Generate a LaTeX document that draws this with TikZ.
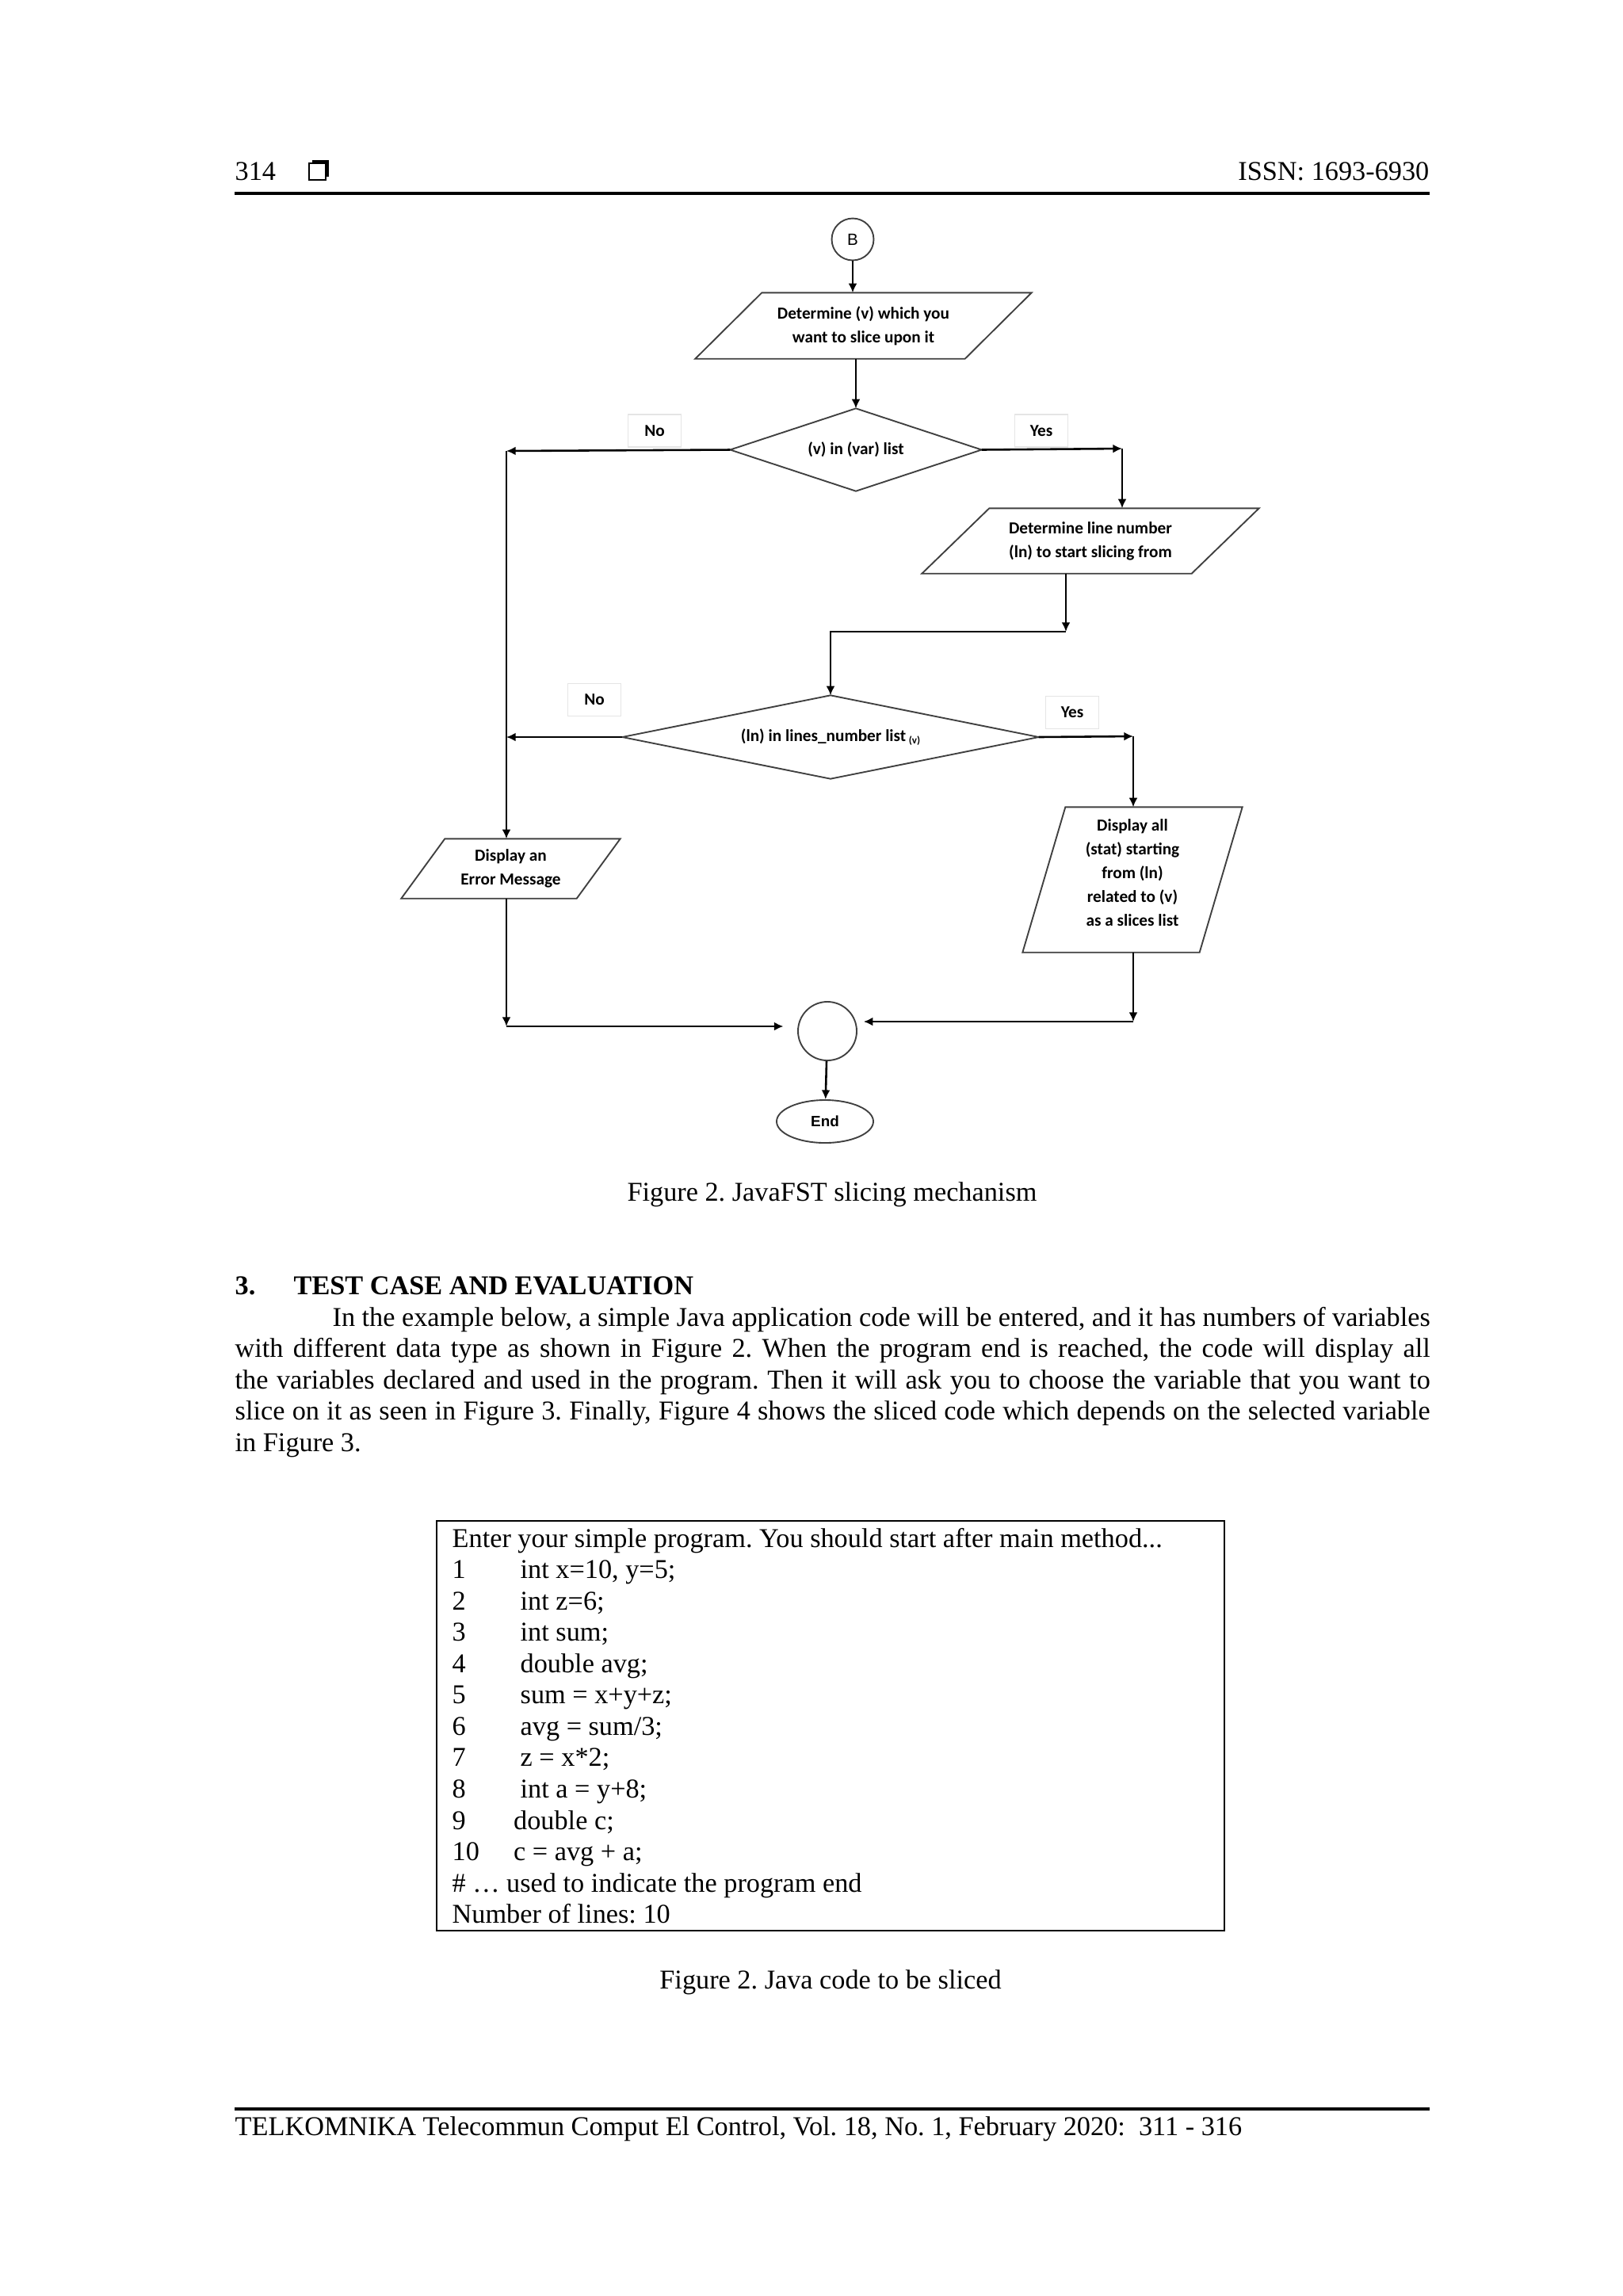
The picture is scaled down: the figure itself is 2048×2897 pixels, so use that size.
\documentclass[tikz,border=0pt]{standalone}
\usepackage{fontspec}
\setmainfont{Liberation Serif}
\newfontfamily\fcal{Carlito}
\newfontfamily\farial{Liberation Sans}
\usetikzlibrary{arrows.meta,calc,shapes.geometric}
\begin{document}
\frenchspacing
\begin{tikzpicture}[x=0.10254mm,y=-0.10254mm,
  fc/.style={font=\fcal\bfseries\fontsize{6.2}{8.7}\selectfont, align=center, inner sep=0pt},
  shp/.style={draw=black!75, line width=0.55pt},
  arr/.style={draw=black, line width=0.75pt, -{Latex[length=3.4pt,width=3.2pt]}},
  lbl/.style={fc, draw=black!10, line width=0.4pt, minimum width=6.87mm, minimum height=4.2mm},
  body/.style={font=\fontsize{10}{11.5}\selectfont, inner sep=0pt, anchor=base west},
  rule/.style={line width=1.2pt},
]
\useasboundingbox (0,0) rectangle (2048,2897);

% ---------- header ----------
\node[body] (pg) at (296,227) {314};
\fill[black] (394,202) rectangle (415,223);
\filldraw[fill=white, draw=black, line width=0.5pt] (390,206) rectangle (411,227);
\node[body, anchor=base east] (issn) at (1804,227) {ISSN: 1693-6930};
\draw[rule] (296,244) -- (1804,244);

% ---------- flowchart ----------
\node[circle, shp, minimum size=5.43mm, inner sep=0pt, font=\farial\fontsize{6}{7}\selectfont] (B) at (1076,302) {B};

\node[fc, minimum width=34.76mm, minimum height=8.41mm] (P1) at (1089.5,411) {Determine (v) which you\\want to slice upon it};
\draw[shp] ($(P1.north west)+(42,0)$) -- ($(P1.north east)+(42,0)$) -- ($(P1.south east)+(-42,0)$) -- ($(P1.south west)+(-42,0)$) -- cycle;

\node[fc, minimum width=32.40mm, minimum height=10.56mm] (D1) at (1080,567.5) {(v) in (var) list};
\draw[shp] (D1.north) -- (D1.east) -- (D1.south) -- (D1.west) -- cycle;

\node[fc, minimum width=34.76mm, minimum height=8.31mm] (P2) at (1376,682.5) {Determine line number\\(ln) to start slicing from};
\draw[shp] ($(P2.north west)+(42.5,0)$) -- ($(P2.north east)+(42.5,0)$) -- ($(P2.south east)+(-42.5,0)$) -- ($(P2.south west)+(-42.5,0)$) -- cycle;

\node[fc, minimum width=53.73mm, minimum height=10.66mm] (D2) at (1048,930) {(ln) in lines\_number list\,\raisebox{-0.7pt}{\fontsize{3.8}{4}\selectfont(v)}};
\draw[shp] (D2.north) -- (D2.east) -- (D2.south) -- (D2.west) -- cycle;

\node[fc, minimum width=22.76mm, minimum height=18.66mm] (P3) at (1429,1110) {Display all\\(stat) starting\\from (ln)\\related to (v)\\as a slices list\\[-1.2mm]};
\draw[shp] ($(P3.north west)+(27,0)$) -- ($(P3.north east)+(27,0)$) -- ($(P3.south east)+(-27,0)$) -- ($(P3.south west)+(-27,0)$) -- cycle;

\node[fc, minimum width=22.56mm, minimum height=7.59mm] (PE) at (644.5,1096) {Display an\\Error Message};
\draw[shp] ($(PE.north west)+(27.5,0)$) -- ($(PE.north east)+(27.5,0)$) -- ($(PE.south east)+(-27.5,0)$) -- ($(PE.south west)+(-27.5,0)$) -- cycle;

\node[circle, shp, minimum size=7.59mm, inner sep=0pt] (C) at (1044,1301) {};
\node[ellipse, shp, minimum width=12.51mm, minimum height=5.54mm, inner sep=0pt, font=\farial\bfseries\fontsize{5.5}{6.5}\selectfont] (E) at (1041,1415) {End};

% labels
\node[lbl] (no1) at (826,543.5) {No};
\node[lbl] (yes1) at (1314,543.5) {Yes};
\node[lbl] (no2) at (750,883) {No};
\node[lbl] (yes2) at (1353,899) {Yes};

% corner coordinates
\coordinate (cNo1) at (639,569);
\coordinate (cYes1) at (1416,566);
\coordinate (c2) at (1345,797);
\coordinate (cYes2) at (1430,929);
\coordinate (cL) at (639,1295);
\coordinate (cR) at (1430,1289);

% connectors
\draw[arr] (B) -- (B |- P1.north);
\draw[arr] (D1.north |- P1.south) -- (D1.north);
\draw[arr] (D1.west) -- (cNo1);
\draw[arr] (cNo1) -- (cNo1 |- PE.north);
\draw[arr] (D1.east) -- (cYes1);
\draw[arr] (cYes1) -- (cYes1 |- P2.north);
\draw[arr] (c2 |- P2.south) -- (c2);
\draw[arr] (c2) -- (D2.north |- c2) -- (D2.north);
\draw[arr] (D2.west) -- (D2.west -| cNo1);
\draw[arr] (D2.east) -- (cYes2);
\draw[arr] (cYes2) -- (cYes2 |- P3.north);
\draw[arr] (cL |- PE.south) -- (cL);
\draw[arr, shorten >=1.8mm] (cL) -- (C.west |- cL);
\draw[arr] (cR |- P3.south) -- (cR);
\draw[arr, shorten >=0.8mm] (cR) -- (C.east |- cR);
\draw[arr] (C) -- (E);

% ---------- captions and text ----------
\node[body, anchor=base] (cap1) at (1050,1515) {Figure 2. JavaFST slicing mechanism};

\node[body] (sec) at (296,1633) {\bfseries\makebox[7.59mm][l]{3.}TEST CASE AND EVALUATION};

\node[body] (t1) at (419,1673) {\makebox[142.02mm][s]{In the example below, a simple Java application code will be entered, and it has numbers of variables}};
\node[body] (t2) at (296,1712.5) {\makebox[154.63mm][s]{with different data type as shown in Figure 2. When the program end is reached, the code will display all}};
\node[body] (t3) at (296,1752) {\makebox[154.63mm][s]{the variables declared and used in the program. Then it will ask you to choose the variable that you want to}};
\node[body] (t4) at (296,1791.5) {\makebox[154.63mm][s]{slice on it as seen in Figure 3. Finally, Figure 4 shows the sliced code which depends on the selected variable}};
\node[body] (t5) at (296,1831) {in Figure 3.};

% code box
\draw[line width=0.7pt] (551,1919) rectangle (1545,2436);
\node[body] (k0) at (570,1952) {Enter your simple program. You should start after main method...};
\node[body] (k1) at (570,1991.5) {\makebox[8.82mm][l]{1}int x=10, y=5;};
\node[body] (k2) at (570,2031) {\makebox[8.82mm][l]{2}int z=6;};
\node[body] (k3) at (570,2070.6) {\makebox[8.82mm][l]{3}int sum;};
\node[body] (k4) at (570,2110) {\makebox[8.82mm][l]{4}double avg;};
\node[body] (k5) at (570,2149.7) {\makebox[8.82mm][l]{5}sum = x+y+z;};
\node[body] (k6) at (570,2189) {\makebox[8.82mm][l]{6}avg = sum/3;};
\node[body] (k7) at (570,2228.8) {\makebox[8.82mm][l]{7}z = x*2;};
\node[body] (k8) at (570,2268.4) {\makebox[8.82mm][l]{8}int a = y+8;};
\node[body] (k9) at (570,2308) {\makebox[7.95mm][l]{9}double c;};
\node[body] (k10) at (570,2347.5) {\makebox[7.95mm][l]{10}c = avg + a;};
\node[body] (k11) at (570,2387) {\# … used to indicate the program end};
\node[body] (k12) at (570,2426.6) {Number of lines: 10};

\node[body, anchor=base] (cap2) at (1048,2509) {Figure 2. Java code to be sliced};

% ---------- footer ----------
\draw[rule] (296,2661) -- (1804,2661);
\node[body] (foot) at (296,2694) {TELKOMNIKA Telecommun Comput El Control, Vol. 18, No. 1, February 2020:\ \ 311 - 316};
\end{tikzpicture}
\end{document}
